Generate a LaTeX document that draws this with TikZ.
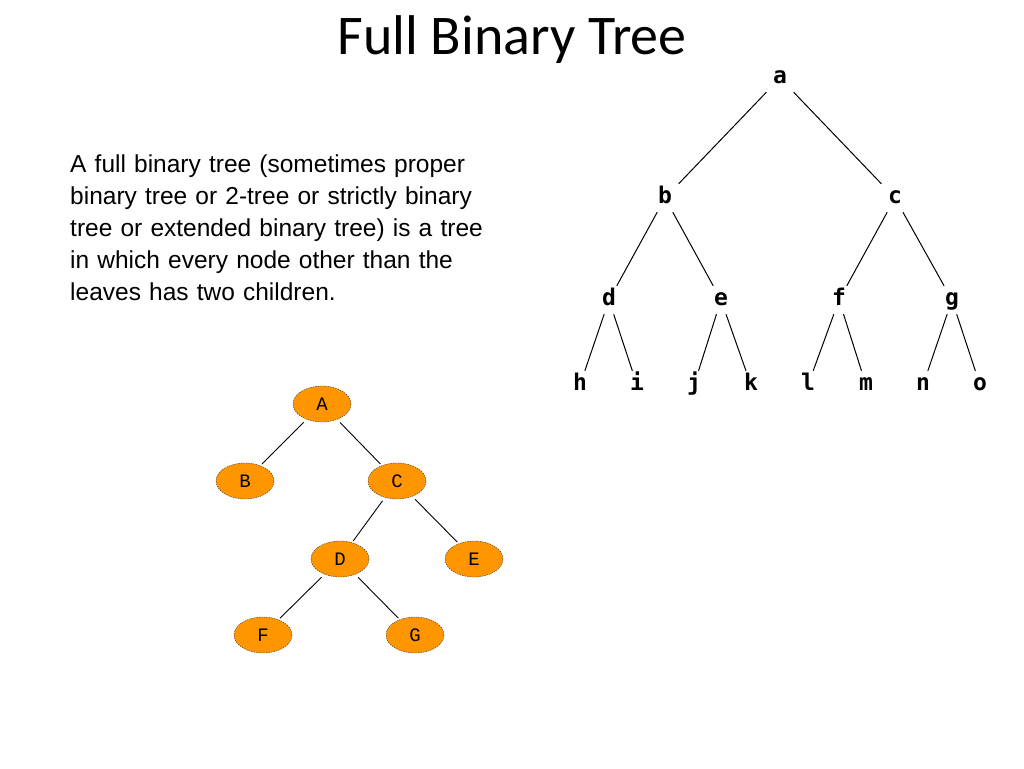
\documentclass[tikz,border=0pt]{standalone}
\usepackage{fontspec}
\setmainfont{Liberation Sans}
\newfontfamily\titlefont{Carlito}
\newfontfamily\treefont{DejaVu Sans Mono}
\newfontfamily\monofont{Liberation Mono}
\usetikzlibrary{shapes.geometric}
\definecolor{nodeorange}{RGB}{255,150,0}

\begin{document}
\begin{tikzpicture}[
  x=1pt, y=-1pt,
  leaf/.style = {font=\treefont\bfseries\fontsize{23}{23}\selectfont, text height=14pt, text depth=4pt, minimum size=28pt, inner sep=0pt},
  egg/.style = {ellipse, draw=black!80, dashed, dash pattern=on 1.5pt off 1pt, fill=nodeorange,
                minimum width=58pt, minimum height=36pt, inner sep=0pt, font=\monofont\fontsize{19}{19}\selectfont},
  edge/.style = {draw, line width=1pt},
  oedge/.style = {draw, line width=0.9pt, shorten <=4pt, shorten >=2pt}
  ]
	\useasboundingbox (0,0) rectangle (1024,768);

	\node[font=\titlefont\fontsize{56}{56}\selectfont] (title) at (512,40) {Full Binary Tree};

	\node[anchor=north west, align=left, text width=460pt, inner sep=0pt, font=\fontsize{24.5}{32}\selectfont] (text) at (70,155)
	  {A full binary tree (sometimes proper\\ binary tree or 2-tree or strictly binary\\ tree or extended binary tree) is a tree\\ in which every node other than the\\ leaves has two children.};

	% letter tree
	\node[leaf] (a) at (780,78) {a};
	\node[leaf] (b) at (665,198) {b};
	\node[leaf] (c) at (895,198) {c};
	\node[leaf] (d) at (609,300) {d};
	\node[leaf] (e) at (721,300) {e};
	\node[leaf] (f) at (839,300) {f};
	\node[leaf] (g) at (952,300) {g};
	\node[leaf] (h) at (580,385) {h};
	\node[leaf] (i) at (637,385) {i};
	\node[leaf] (j) at (694,385) {j};
	\node[leaf] (k) at (751,385) {k};
	\node[leaf] (l) at (808,385) {l};
	\node[leaf] (m) at (866,385) {m};
	\node[leaf] (n) at (923,385) {n};
	\node[leaf] (o) at (980,385) {o};

	\foreach \p/\q in {a/b,a/c,b/d,b/e,c/f,c/g,d/h,d/i,e/j,e/k,f/l,f/m,g/n,g/o}
		\path[edge] (\p) -- (\q);

	% orange tree
	\node[egg] (A) at (322,404) {A};
	\node[egg] (B) at (245,481) {B};
	\node[egg] (C) at (397,481) {C};
	\node[egg] (D) at (340,559) {D};
	\node[egg] (E) at (474,559) {E};
	\node[egg] (F) at (263,635) {F};
	\node[egg] (G) at (415,635) {G};

	\foreach \p/\q in {A/B,A/C,C/D,C/E,D/F,D/G}
		\path[oedge] (\p) -- (\q);

\end{tikzpicture}
\end{document}
